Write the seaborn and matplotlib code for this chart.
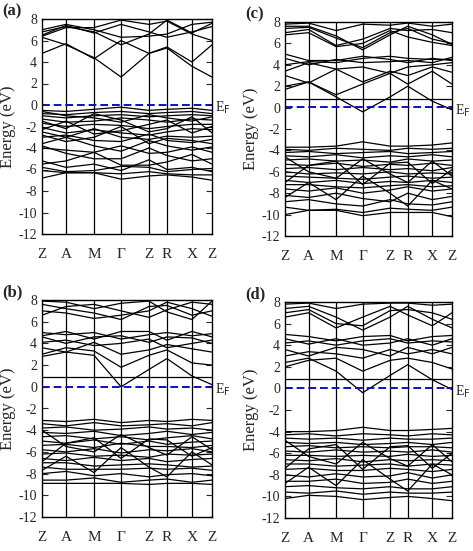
import numpy as np
import pandas as pd
import matplotlib
matplotlib.use('Agg')
import matplotlib.pyplot as plt
import seaborn as sns

sns.set_theme(style="ticks")
plt.rcParams['font.family'] = ['Liberation Serif', 'DejaVu Serif']

# k-path (relative positions of high-symmetry points)
kpos = [0.0, 0.141, 0.306, 0.465, 0.629, 0.735, 0.882, 1.0]
klabels = ['Z', 'A', 'M', 'Γ', 'Z', 'R', 'X', 'Z']

# energies (eV) at each high-symmetry point
bands_a = [
    [6.8, 7.3, 6.8, 5.6, 6.6, 7.9, 6.7, 7.6],
    [6.3, 5.6, 4.4, 2.6, 4.8, 5.3, 3.6, 2.6],
    [4.8, 5.7, 4.3, 6.0, 4.8, 5.4, 4.0, 5.6],
    [6.5, 7.4, 6.7, 7.5, 6.8, 6.3, 6.8, 7.3],
    [7.0, 7.5, 7.0, 6.3, 6.4, 6.6, 7.5, 7.7],
    [6.4, 7.2, 7.2, 7.9, 7.5, 7.8, 6.6, 6.0],
    [-0.5, -0.6, -0.4, -0.2, -0.5, -0.4, -0.3, -0.5],
    [-0.8, -0.9, -0.7, -0.6, -0.8, -0.7, -0.6, -0.8],
    [-1.0, -1.2, -1.0, -0.9, -1.1, -1.0, -0.9, -1.0],
    [-1.3, -1.6, -1.5, -1.2, -1.4, -1.6, -1.3, -1.4],
    [-1.7, -2.0, -1.8, -1.9, -2.2, -2.0, -1.8, -1.8],
    [-2.1, -2.6, -2.3, -2.6, -2.8, -2.5, -2.2, -2.3],
    [-2.5, -3.0, -2.2, -3.0, -3.2, -2.9, -3.0, -2.9],
    [-3.0, -2.8, -3.3, -3.4, -2.7, -3.3, -3.5, -3.2],
    [-3.6, -3.0, -3.8, -4.3, -3.3, -3.8, -4.2, -3.9],
    [-4.0, -4.2, -4.4, -3.8, -4.5, -4.4, -3.9, -4.4],
    [-3.8, -4.5, -5.0, -5.0, -4.0, -4.7, -5.2, -5.0],
    [-5.5, -5.2, -4.4, -5.6, -5.6, -5.3, -4.6, -5.5],
    [-5.8, -6.2, -6.1, -5.7, -5.8, -6.2, -6.0, -5.9],
    [-6.1, -6.3, -6.3, -6.4, -6.2, -6.4, -6.5, -6.5],
    [-6.8, -6.3, -6.3, -6.9, -6.6, -6.5, -6.7, -7.0],
    [-5.2, -5.8, -5.5, -6.1, -5.1, -6.0, -5.8, -6.2],
    [-2.3, -1.5, -2.7, -2.4, -1.8, -1.4, -2.6, -2.0],
    [-0.6, -1.0, -1.2, -1.6, -0.9, -1.2, -1.5, -1.1],
    [-1.5, -2.2, -0.8, -1.4, -2.5, -2.2, -1.1, -2.6],
    [-2.8, -3.4, -3.0, -2.0, -3.6, -3.1, -3.3, -3.6],
]

bands_b = [
    [0.9, 0.9, 0.9, 0.9, 0.9, 0.9, 0.9, 0.9],
    [2.8, 3.2, 2.9, 0.0, 1.6, 2.6, 1.0, 0.2],
    [3.0, 3.6, 3.3, 1.8, 2.9, 3.4, 2.2, 2.0],
    [3.6, 3.2, 4.1, 3.0, 3.4, 3.9, 3.5, 3.2],
    [4.1, 4.3, 3.8, 4.0, 4.4, 3.6, 4.0, 4.3],
    [4.6, 4.0, 4.6, 4.7, 4.1, 4.6, 4.5, 4.0],
    [5.0, 4.8, 5.0, 4.4, 4.8, 5.0, 4.7, 4.9],
    [4.7, 5.1, 4.4, 5.1, 5.1, 4.3, 5.1, 4.6],
    [7.6, 7.2, 6.8, 6.2, 7.4, 7.5, 6.6, 7.0],
    [7.0, 6.8, 6.3, 6.6, 7.0, 7.8, 7.2, 6.5],
    [6.6, 7.4, 7.6, 7.0, 6.4, 7.1, 7.8, 7.6],
    [7.9, 7.8, 7.2, 7.7, 7.9, 6.9, 6.2, 7.9],
    [-3.1, -3.2, -3.0, -3.3, -3.1, -3.2, -3.0, -3.1],
    [-3.4, -3.6, -3.3, -3.6, -3.5, -3.4, -3.6, -3.3],
    [-3.8, -3.7, -4.0, -3.9, -3.7, -3.9, -3.8, -4.0],
    [-4.2, -4.3, -4.1, -4.5, -4.3, -4.1, -4.4, -4.2],
    [-4.6, -4.5, -4.8, -4.6, -4.9, -4.7, -4.5, -4.8],
    [-5.0, -5.2, -4.9, -5.3, -5.0, -5.3, -5.1, -5.0],
    [-5.4, -5.3, -5.6, -5.2, -5.5, -5.5, -5.6, -5.4],
    [-5.8, -6.0, -5.7, -6.1, -5.8, -5.9, -5.7, -6.0],
    [-6.2, -6.1, -6.4, -6.3, -6.5, -6.2, -6.3, -6.2],
    [-6.6, -6.8, -6.5, -6.8, -6.6, -6.9, -6.7, -6.6],
    [-7.0, -7.0, -7.3, -7.2, -7.1, -7.2, -7.4, -7.3],
    [-7.4, -7.6, -7.6, -7.6, -7.5, -7.6, -7.5, -7.7],
    [-8.0, -7.8, -8.2, -8.0, -8.3, -8.1, -8.0, -8.2],
    [-8.6, -8.6, -8.4, -8.8, -8.6, -8.5, -8.8, -8.6],
    [-8.9, -8.9, -8.9, -8.9, -9.0, -8.9, -8.9, -9.0],
    [-4.0, -5.5, -6.0, -4.4, -5.6, -6.3, -4.6, -5.8],
    [-6.9, -5.2, -4.7, -6.6, -4.8, -4.9, -6.4, -5.6],
    [-7.7, -6.4, -7.9, -5.6, -7.4, -8.3, -6.0, -7.2],
]

bands_c = [
    [0.8, 0.8, 0.8, 0.8, 0.8, 0.8, 0.8, 0.8],
    [2.0, 2.4, 1.0, -0.4, 1.0, 2.0, 0.6, -0.2],
    [1.7, 2.4, 1.2, 2.2, 3.2, 2.2, 3.4, 2.2],
    [3.0, 2.3, 3.6, 2.4, 3.4, 3.0, 3.8, 3.3],
    [3.4, 4.2, 3.6, 3.8, 3.2, 3.8, 4.0, 4.2],
    [4.0, 4.3, 4.2, 4.6, 4.8, 4.6, 4.5, 4.5],
    [4.6, 4.0, 4.5, 4.2, 4.3, 4.4, 4.2, 4.7],
    [5.0, 4.4, 4.4, 4.8, 4.5, 4.2, 4.6, 4.4],
    [7.6, 7.6, 6.7, 5.4, 6.8, 7.6, 6.8, 5.9],
    [7.4, 7.5, 6.5, 5.6, 7.0, 7.4, 6.4, 6.0],
    [7.0, 7.3, 5.8, 6.4, 7.4, 7.2, 7.3, 7.0],
    [7.8, 7.9, 7.2, 7.8, 7.7, 7.9, 7.6, 7.8],
    [6.8, 7.0, 5.7, 6.0, 7.2, 6.6, 6.1, 5.8],
    [-3.7, -3.7, -3.6, -3.2, -3.6, -3.6, -3.5, -3.3],
    [-3.9, -4.0, -3.8, -3.9, -4.0, -3.8, -3.9, -3.8],
    [-4.2, -4.1, -4.3, -4.2, -4.1, -4.3, -4.2, -4.1],
    [-4.5, -4.6, -4.4, -4.7, -4.5, -4.6, -4.4, -4.6],
    [-4.9, -4.8, -5.0, -4.9, -5.1, -4.8, -5.0, -4.9],
    [-5.3, -5.4, -5.2, -5.5, -5.3, -5.4, -5.2, -5.4],
    [-5.7, -5.6, -5.8, -5.6, -5.8, -5.7, -5.9, -5.6],
    [-6.0, -6.2, -6.1, -6.2, -6.0, -6.2, -6.1, -6.2],
    [-6.4, -6.5, -6.6, -6.7, -6.5, -6.4, -6.6, -6.5],
    [-6.8, -7.0, -6.8, -7.1, -6.9, -7.0, -6.8, -7.0],
    [-7.2, -7.2, -7.4, -7.5, -7.3, -7.2, -7.4, -7.3],
    [-7.6, -7.8, -7.5, -8.0, -7.7, -7.4, -7.8, -7.6],
    [-8.2, -8.4, -8.0, -8.5, -8.8, -8.0, -8.6, -8.3],
    [-8.8, -8.6, -9.0, -9.2, -8.6, -9.0, -9.1, -8.8],
    [-9.3, -9.6, -9.5, -9.8, -9.4, -9.5, -9.6, -9.3],
    [-10.0, -9.6, -9.6, -10.1, -9.8, -9.8, -9.8, -10.2],
    [-4.6, -6.0, -6.6, -4.8, -6.2, -7.0, -5.0, -6.4],
    [-7.0, -5.4, -5.0, -7.2, -5.2, -5.1, -7.1, -5.8],
    [-8.4, -7.0, -8.6, -6.4, -8.0, -9.2, -6.8, -7.6],
]

bands_d = [
    [0.9, 0.9, 0.9, 0.9, 0.9, 0.9, 0.9, 0.9],
    [2.4, 2.8, 1.6, -0.4, 1.2, 2.2, 0.8, -0.1],
    [2.0, 2.6, 2.8, 1.6, 2.6, 2.8, 2.4, 1.8],
    [3.0, 3.4, 3.2, 2.8, 3.6, 3.2, 3.6, 3.2],
    [3.6, 3.0, 3.8, 3.6, 3.0, 3.8, 3.2, 3.8],
    [4.2, 4.4, 4.0, 4.4, 4.6, 4.2, 4.4, 4.3],
    [4.6, 4.1, 4.6, 4.0, 4.2, 4.6, 4.0, 4.6],
    [5.0, 4.8, 4.4, 4.8, 4.9, 4.4, 4.8, 4.9],
    [7.4, 7.6, 6.6, 5.4, 6.6, 7.6, 6.4, 5.6],
    [7.0, 7.3, 6.0, 5.8, 7.2, 7.3, 7.0, 6.4],
    [6.6, 7.0, 5.6, 6.6, 7.6, 6.8, 5.8, 7.0],
    [7.8, 7.9, 7.4, 7.8, 7.9, 7.9, 7.7, 7.8],
    [-4.0, -4.0, -3.9, -3.6, -3.9, -3.9, -3.8, -3.7],
    [-4.3, -4.2, -4.4, -4.2, -4.3, -4.4, -4.2, -4.3],
    [-4.6, -4.7, -4.6, -4.8, -4.6, -4.7, -4.7, -4.6],
    [-5.0, -5.1, -5.0, -5.2, -5.1, -5.0, -5.2, -5.0],
    [-5.4, -5.3, -5.5, -5.4, -5.5, -5.4, -5.4, -5.5],
    [-5.8, -5.9, -5.7, -5.9, -5.8, -5.9, -5.7, -5.9],
    [-6.2, -6.2, -6.3, -6.2, -6.3, -6.1, -6.3, -6.2],
    [-6.6, -6.7, -6.5, -6.8, -6.6, -6.7, -6.6, -6.7],
    [-7.0, -7.0, -7.2, -7.1, -7.0, -7.2, -7.0, -7.1],
    [-7.5, -7.4, -7.6, -7.6, -7.4, -7.5, -7.7, -7.5],
    [-8.0, -8.2, -7.9, -8.2, -8.1, -7.8, -8.3, -8.0],
    [-8.6, -8.6, -8.4, -8.8, -8.7, -8.4, -8.8, -8.6],
    [-9.1, -9.0, -9.2, -9.3, -9.1, -9.3, -9.3, -9.1],
    [-9.6, -9.7, -9.5, -9.8, -9.6, -9.7, -9.7, -9.6],
    [-10.2, -9.9, -10.0, -10.3, -10.1, -10.0, -10.2, -10.4],
    [-4.8, -6.3, -7.0, -5.0, -6.5, -7.2, -5.2, -6.8],
    [-7.4, -5.6, -5.2, -7.5, -5.4, -5.3, -7.4, -6.0],
    [-8.8, -7.3, -9.0, -6.6, -8.4, -9.5, -7.0, -8.0],
]

panels = [
    ('(a)', bands_a, [42, 19, 212, 234]),
    ('(c)', bands_c, [285, 22, 452, 236]),
    ('(b)', bands_b, [42, 300, 212, 517]),
    ('(d)', bands_d, [285, 302, 452, 518]),
]

W, H = 473, 551
fig = plt.figure(figsize=(W / 100, H / 100), dpi=100)

for tag, bands, (x0, y0, x1, y1) in panels:
    ax = fig.add_axes([x0 / W, 1 - y1 / H, (x1 - x0) / W, (y1 - y0) / H])
    rows = []
    for i, b in enumerate(bands):
        for k, e in zip(kpos, b):
            rows.append((i, k, e))
    df = pd.DataFrame(rows, columns=['band', 'k', 'E'])
    sns.lineplot(data=df, x='k', y='E', units='band', estimator=None,
                 color='black', lw=0.9, ax=ax, legend=False)
    for k in kpos[1:-1]:
        ax.axvline(k, color='black', lw=0.9)
    ax.axhline(0.05 if tag == '(c)' else 0.0, color='#1010c0', lw=1.4, ls='--', dashes=(4, 2))
    ax.set_xlim(0, 1)
    ax.set_ylim(-12, 8)
    ax.set_xticks(kpos)
    ax.set_xticklabels(klabels, fontsize=11)
    ax.set_yticks(range(-12, 9, 2))
    ax.set_yticklabels([str(v) for v in range(-12, 9, 2)], fontsize=10)
    ax.tick_params(axis='x', length=0, pad=10)
    ax.tick_params(axis='y', direction='in', length=4, right=True, width=0.8)
    ax.set_xlabel('')
    ax.set_ylabel('Energy (eV)', fontsize=12, labelpad=2)
    for s in ax.spines.values():
        s.set_linewidth(1.0)
        s.set_color('black')
    ax.text(1.02, -0.3, r'E$_\mathrm{F}$', transform=ax.get_yaxis_transform(),
            fontsize=10, va='center')
    fig.text((x0 - 42) / W + 2 / W, 1 - (y0 - 8) / H, tag, fontsize=12,
             fontweight='bold', va='center')

fig.savefig('out.png', dpi=100)
